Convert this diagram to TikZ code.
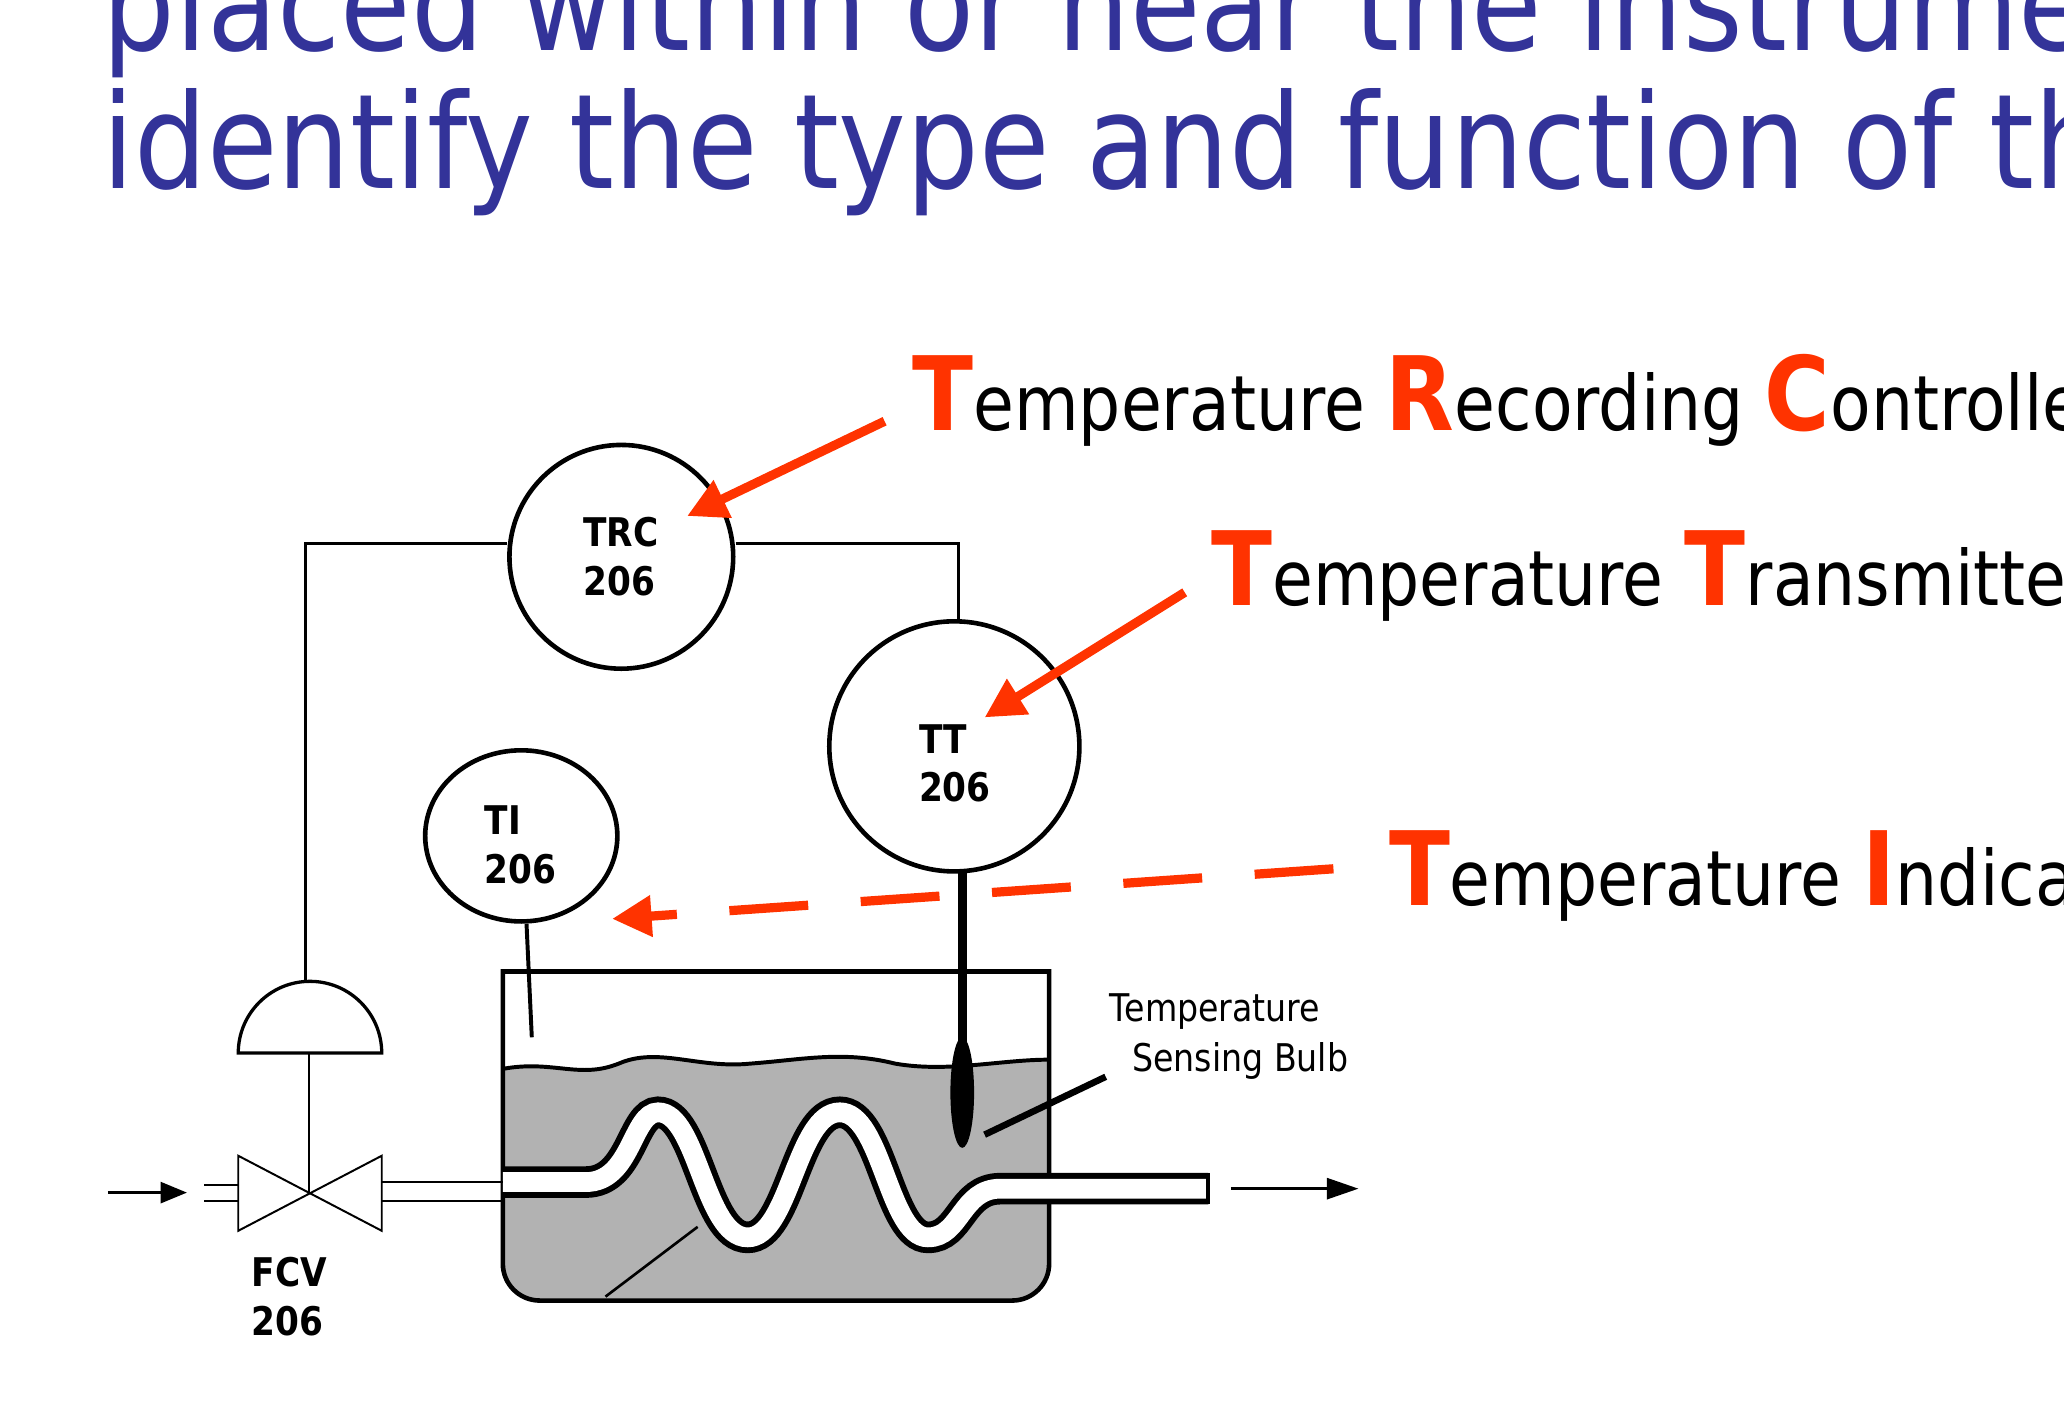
\documentclass[tikz,border=0pt]{standalone}
\usepackage{fontspec}
\setmainfont{DejaVu Sans}[FakeStretch=0.87]
\usetikzlibrary{arrows.meta,shapes.geometric}
\definecolor{ttl}{HTML}{333399}
\definecolor{rd}{HTML}{FF3300}
\begin{document}
\begin{tikzpicture}[x=1pt,y=-1pt,
  inst/.style={draw,line width=3.5pt},
  lbl/.style={font=\fontsize{30}{37}\selectfont\bfseries,align=left,anchor=north west,inner sep=0},
  big/.style={anchor=base west,inner sep=0,font=\fontsize{58}{70}\selectfont},
  rarrow/.style={rd,line width=7pt,-{Triangle[length=30pt,width=30pt]}}]
\useasboundingbox[fill=white] (0,0) rectangle (1568,1072);
\begin{scope}
\clip (0,0) rectangle (1568,1072);
\node[anchor=base west,inner sep=0,text=ttl,font=\fontsize{100}{110}\selectfont] (t1) at (78,38) {placed within or near the instrument};
\node[anchor=base west,inner sep=0,text=ttl,font=\fontsize{100}{110}\selectfont] (t2) at (78,143) {identify the type and function of the};
\node[big] (l1) at (693,327) {\textcolor{rd}{\fontsize{78}{90}\selectfont\bfseries T}emperature \textcolor{rd}{\fontsize{78}{90}\selectfont\bfseries R}ecording \textcolor{rd}{\fontsize{78}{90}\selectfont\bfseries C}ontroller};
\node[big] (l2) at (920,460) {\textcolor{rd}{\fontsize{78}{90}\selectfont\bfseries T}emperature \textcolor{rd}{\fontsize{78}{90}\selectfont\bfseries T}ransmitter};
\node[big] (l3) at (1055,688) {\textcolor{rd}{\fontsize{78}{90}\selectfont\bfseries T}emperature \textcolor{rd}{\fontsize{78}{90}\selectfont\bfseries I}ndicator};
\end{scope}
% tank liquid
\fill[gray!60] (382,812) .. controls (420,805) and (440,820) .. (470,808) .. controls (500,795) and (530,812) .. (570,808) .. controls (610,805) and (640,798) .. (680,808) .. controls (720,815) and (760,805) .. (797,805) [rounded corners=28pt] -- (797,988) -- (382,988) [sharp corners] -- (382,812) -- cycle;
\draw[line width=3pt] (382,812) .. controls (420,805) and (440,820) .. (470,808) .. controls (500,795) and (530,812) .. (570,808) .. controls (610,805) and (640,798) .. (680,808) .. controls (720,815) and (760,805) .. (797,805);
\draw[line width=3.5pt] (382,738) [rounded corners=28pt] -- (382,988) -- (797,988) [sharp corners] -- (797,738) -- cycle;
\draw[line width=2pt] (460,985) -- (530,932);
% coil
\path (382,898) coordinate (c0) (918,903) coordinate (c1);
\def\coil{(c0) -- (445,898) .. controls (480,898) and (480,845) .. (500,845) .. controls (530,845) and (535,940) .. (568,940) .. controls (600,940) and (605,845) .. (638,845) .. controls (670,845) and (675,940) .. (705,940) .. controls (730,940) and (730,903) .. (760,903) -- (c1)}
\draw[line width=24pt] \coil;
\draw[white,line width=15pt] \coil;
\draw[line width=3pt] (918,891) -- (918,915);
% instruments
\node[inst,circle,minimum size=170pt] (trc) at (472,423) {};
\node[lbl] at (443,393) {TRC\\206};
\node[inst,circle,minimum size=190pt] (tt) at (725,567) {};
\node[lbl] at (698,550) {TT\\206};
\node[inst,ellipse,minimum width=146pt,minimum height=130pt,inner sep=0] (ti) at (396,635) {};
\node[lbl] at (368,612) {TI\\206};
% signal lines
\draw[line width=2pt] (trc.west |- 0,413) -- (232,413) -- (232,745) coordinate (act);
\draw[line width=2pt] (trc.east |- 0,413) -- (728,413) -- (728,473);
\draw[line width=2.5pt] (181,800) arc[start angle=180,end angle=360,radius=54.5] -- cycle;
\draw[line width=1.5pt] (235,800) -- (235,906);
\draw[line width=1.5pt] (181,878) -- (181,935) -- (290,878) -- (290,935) -- cycle;
\draw[line width=1.5pt] (155,900) -- (181,900) (155,912) -- (181,912) (290,898) -- (382,898) (290,912) -- (382,912);
\draw[line width=2pt,-{Triangle[length=20pt,width=16pt]}] (82,906) -- (142,906);
\draw[line width=2pt,-{Triangle[length=24pt,width=16pt]}] (935,903) -- (1032,903);
\node[lbl,anchor=north west] (fcv) at (191,955) {FCV\\206};
% stems
\draw[line width=7pt] (731,662) -- (731,800);
\fill (731,830) ellipse (9 and 42);
\draw[line width=3pt] (400,702) -- (404,788);
\draw[line width=5pt] (748,862) -- (840,818);
\node[anchor=north west,inner sep=0,font=\fontsize{29}{38}\selectfont,align=left] (bulb) at (843,755) {Temperature\\\hspace*{17pt}Sensing Bulb};
% red arrows
\draw[rarrow] (672,320) -- (522,392);
\draw[rarrow] (900,450) -- (748,545);
\draw[rarrow,dash pattern=on 60pt off 40pt] (1013,660) -- (465,698);
\end{tikzpicture}
\end{document}
